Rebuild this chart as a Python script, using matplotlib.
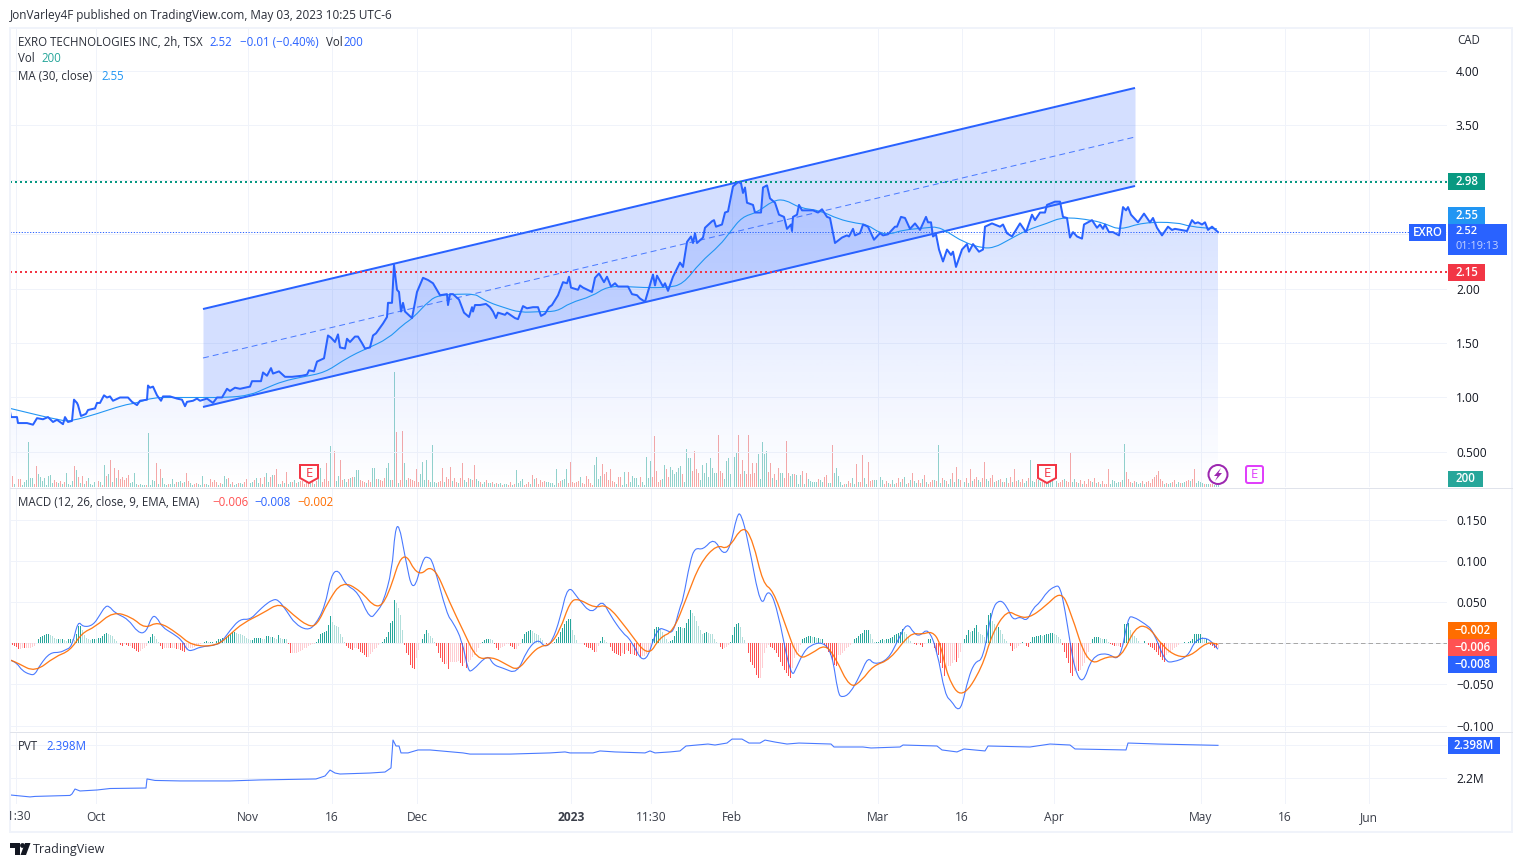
import numpy as np
import matplotlib
matplotlib.use("Agg")
import matplotlib.pyplot as plt
from matplotlib.patches import Rectangle, Polygon, Circle, FancyBboxPatch, PathPatch
from matplotlib.path import Path
from matplotlib.transforms import Bbox, TransformedBbox

plt.rcParams['font.family'] = ['Open Sans', 'DejaVu Sans']
plt.rcParams['axes.unicode_minus'] = True

W, H = 1522, 867

# ---------- data ----------
price_points = [(10,.87),(11,.82),(17,.82),(18,.765),(27,.765),(33,.75),(37,.81),(43,.80),(48,.82),(53,.775),(57,.795),(63,.755),(65,.82),(68,.775),(72,.785),(74,.98),(77,.95),(78,.93),(81,.83),(86,.85),(88,.885),(95,.90),(97,.95),(100,.95),(104,1.02),(107,1.0),(110,1.01),(113,.97),(120,1.0),(128,1.0),(132,.96),(137,.93),(140,.97),(147,.98),(148,1.11),(150,1.09),(153,1.10),(157,1.02),(161,.97),(163,1.01),(170,1.01),(177,.99),(182,.98),(185,.92),(187,.96),(193,.97),(197,.99),(200,.97),(207,.99),(213,.95),(217,1.0),(222,1.0),(227,1.08),(230,1.06),(235,1.09),(240,1.08),(250,1.10),(252,1.15),(261,1.15),(263,1.23),(267,1.20),(271,1.27),(273,1.22),(279,1.24),(285,1.19),(292,1.19),(302,1.20),(307,1.21),(309,1.25),(314,1.24),(317,1.33),(324,1.36),(328,1.57),(331,1.55),(335,1.51),(338,1.58),(340,1.46),(345,1.45),(347,1.54),(350,1.51),(355,1.56),(358,1.56),(362,1.50),(365,1.45),(370,1.46),(373,1.57),(376,1.59),(383,1.68),(387,1.74),(388,1.87),(392,1.87),(394,2.22),(397,1.99),(399,1.97),(401,1.79),(403,1.87),(405,1.79),(412,1.73),(417,1.97),(423,2.10),(428,2.08),(433,2.05),(440,1.94),(447,1.95),(448,1.85),(450,1.95),(453,1.95),(459,1.90),(464,1.78),(469,1.74),(472,1.83),(473,1.79),(475,1.85),(480,1.85),
(486,1.86),(490,1.83),(493,1.79),(496,1.73),(498,1.78),(505,1.76),(507,1.78),(515,1.73),(518,1.72),(523,1.84),(527,1.82),(533,1.83),(538,1.83),(541,1.75),(545,1.77),(549,1.83),(552,1.85),(558,1.94),(563,2.06),(567,2.05),(569,2.11),(571,2.01),(578,1.99),(580,2.03),(583,2.01),(592,1.97),(595,2.10),(599,2.14),(604,2.06),(607,2.11),(611,2.02),(615,2.05),(618,2.02),(628,2.02),(632,1.95),(637,1.94),(640,1.91),(645,1.88),(653,2.13),(655,2.03),(657,2.12),(663,2.02),(665,2.05),(668,1.98),(673,2.11),(680,2.24),(683,2.20),(687,2.43),(691,2.48),(693,2.42),(695,2.51),(697,2.42),(703,2.47),(705,2.56),(712,2.62),(714,2.63),(716,2.57),(722,2.59),(725,2.70),(728,2.71),(733,2.94),(738,2.98),(741,2.97),(743,2.88),(745,2.93),(747,2.79),(753,2.77),(755,2.70),(761,2.70),(763,2.93),(767,2.95),(770,2.83),(775,2.79),(779,2.68),(784,2.66),(787,2.55),(791,2.59),(792,2.53),(793,2.66),(797,2.68),(799,2.77),(802,2.72),(813,2.72),(818,2.70),(822,2.73),(827,2.66),(830,2.65),(835,2.42),(842,2.47),(847,2.49),(849,2.48),(853,2.55),(855,2.49),(860,2.51),
(863,2.59),(868,2.57),(874,2.45),(880,2.51),(883,2.49),(888,2.50),(895,2.57),(897,2.57),(901,2.66),(905,2.65),(910,2.55),(915,2.60),(920,2.54),(926,2.66),(928,2.61),(931,2.61),(933,2.48),(936,2.50),(939,2.36),(943,2.25),(947,2.36),(951,2.31),(953,2.34),(956,2.20),(962,2.36),(967,2.41),(969,2.34),(973,2.41),(979,2.34),(983,2.36),(985,2.57),(992,2.60),(1000,2.57),(1003,2.59),(1007,2.51),(1012,2.48),(1020,2.60),(1023,2.56),(1026,2.52),(1032,2.68),(1035,2.63),(1040,2.70),(1045,2.70),(1047,2.77),(1055,2.80),(1060,2.80),(1063,2.66),(1067,2.65),(1070,2.47),(1073,2.52),(1077,2.48),(1082,2.46),(1084,2.59),(1092,2.63),(1097,2.56),(1100,2.59),(1103,2.55),(1105,2.59),(1109,2.52),(1113,2.52),(1119,2.49),(1123,2.75),(1126,2.72),(1128,2.75),(1131,2.68),(1138,2.61),(1144,2.69),(1150,2.61),(1153,2.65),(1157,2.56),(1162,2.49),(1168,2.57),(1172,2.54),(1175,2.55),(1187,2.53),(1192,2.63),(1195,2.60),(1198,2.61),(1202,2.59),(1205,2.61),(1208,2.54),(1212,2.57),(1218,2.52)]

ma_points = [(10,.90),(62,.785),(72,.785),(97,.85),(123,.93),(137,.95),(153,1.0),(173,1.0),(203,1.0),(227,1.0),(250,1.02),(267,1.09),(283,1.15),(303,1.19),(325,1.23),(343,1.34),(357,1.41),(367,1.45),(388,1.54),(403,1.67),(413,1.73),(430,1.90),(440,1.94),(457,1.95),(475,1.95),(480,1.92),(490,1.87),(503,1.83),(520,1.78),(540,1.79),(557,1.79),(570,1.87),(592,1.93),(607,2.02),(627,2.02),(643,2.01),(667,2.01),(683,2.04),(700,2.24),(720,2.40),(730,2.52),(742,2.66),(757,2.70),(773,2.81),(785,2.82),(800,2.74),(820,2.72),(838,2.64),(857,2.60),(867,2.59),(880,2.51),(890,2.50),(903,2.54),(927,2.56),(937,2.57),(948,2.52),(963,2.43),(983,2.37),(995,2.38),(1007,2.44),(1027,2.54),(1047,2.60),(1063,2.66),(1093,2.63),(1107,2.59),(1120,2.54),(1143,2.61),(1177,2.61),(1190,2.57),(1217,2.55)]

channel_t = [203, 1135]
channel_upper = [1.813, 3.845]
channel_middle = [1.363, 3.394]
channel_lower = [0.913, 2.944]

resistance_level = 2.98
support_level = 2.15
last_close = 2.52

volume_rows = [
[2,-11,3,7,-8,-8,2,5,7,45,9,9,-3,-21,13,10,6,9,2,11],
[12,4,-7,-5,4,-6,3,-5,14,3,2,6,-21,17,-10,4,-11,3,-6,9],
[3,2,5,9,-6,5,-2,22,-11,13,-27,5,-19,9,-17,-8,-10,-7,-9,-12],
[4,5,14,3,-2,3,2,2,-2,54,2,7,6,-24,3,-18,9,3,2,-3],
[3,8,3,-5,5,6,-4,5,-14,-6,4,2,-3,-4,3,2,11,-3,3,2],
[-8,-5,-7,-5,2,-4,3,11,8,-9,3,-5,2,3,-4,4,3,-5,-8,3],
[4,5,-7,9,4,-9,3,-10,14,5,-10,12,-12,-18,3,3,-6,4,-15,3],
[5,-5,7,-4,5,-6,-6,-3,-5,-4,4,-5,3,-6,8,19,-5,-8,-24,-6],
[41,9,-36,6,11,-27,-7,8,5,-8,9,-10,10,17,17,-7,-6,-5,4,-7],
[-5,19,19,-8,8,-7,-6,-9,19,24,7,-7,115,-55,4,-7,-56,24,7,-9],
[-8,-7,-6,-18,-5,13,25,7,27,-7,5,42,5,4,-5,-6,-19,5,-10,-8],
[-20,6,-9,-5,4,-9,-24,7,5,-9,8,-7,-22,8,6,-5,3,5,-7,4],
[4,-5,3,-4,3,4,-2,3,3,-2,-5,2,-3,17,4,6,8,-2,-3,-5],
[3,-12,8,-9,-3,-7,-5,-6,5,5,4,4,2,18,-4,-6,7,8,18,-4],
[-25,-5,-4,-5,-6,10,-4,-3,-11,-8,-4,-2,22,30,8,11,-23,-13,-15,-7],
[-18,-6,-5,3,-10,-10,2,15,3,-15,5,11,9,9,2,-10,5,2,30,9],
[26,-10,-51,-16,-5,-7,8,22,-18,-10,20,17,13,15,19,21,-13,5,38,29],
[29,-16,-36,-18,-14,7,22,14,24,10,29,19,14,14,-52,-16,-14,8,26,29],
[13,52,30,34,-52,-13,-27,16,-13,-52,-13,-24,-14,-24,33,8,45,33,36,-15],
[-24,9,-13,7,-19,14,14,-9,-46,-14,11,13,-13,12,3,12,-16,3,-14,8],
[6,5,5,5,-8,7,5,-10,-12,4,4,-42,14,19,11,5,2,-3,3,-6],
[-4,9,3,-23,5,-5,-32,9,3,-25,-6,-7,7,7,12,10,7,-3,-6,4],
[-3,7,3,-4,-9,5,-8,10,3,-4,7,-14,6,4,-7,-4,8,-12,5,-3],
[-5,-7,7,-6,42,4,-9,7,-6,3,8,-14,5,-20,8,-7,-10,5,-9,4],
[-18,6,-8,-10,7,5,-9,-25,8,6,-9,-12,5,-6,7,-8,5,-5,9,-4],
[-10,5,-18,-6,7,-5,-8,4,6,-9,27,6,5,-8,7,5,-5,-9,6,9],
[5,6,3,6,-4,-5,-7,8,-6,-5,-34,5,8,-5,4,-7,3,-6,-3,-8],
[-6,5,-9,4,-5,3,-6,-3,-3,-18,3,7,6,4,5,-5,7,43,-15,-8],
[-5,4,-6,5,3,4,-6,3,-5,-6,-4,-8,-10,-12,-16,-8,-6,3,-4,3],
[4,-5,-7,3,5,-4,4,5,-6,-7,6,-8,-18,4,6,5,4,-3,3,3],
[-3,-3,2,2,2]]

hist_rows = [
[1,-2,-3,-4,-7,-7,-5,-6,-6,-5,-5,-4,-3,0,6,8,9,10,11,11],
[10,9,7,6,6,5,5,4,3,6,6,5,4,11,21,21,16,10,7,5],
[4,5,6,5,7,7,9,11,13,12,10,9,6,3,1,-2,-3,-1,-2,-3],
[-3,-5,-7,-9,-10,-9,-7,-5,-3,3,8,11,9,6,2,-3,-7,-6,-5,-5],
[-6,-6,-6,-7,-7,-8,-9,-10,-8,-6,-5,-5,-4,-3,-2,-1,1,2,3,2],
[2,2,1,3,5,6,7,6,8,10,12,14,14,13,12,11,10,9,7,5],
[4,4,7,7,7,7,6,5,9,9,8,8,7,6,10,7,6,6,5,-1],
[-11,-11,-11,-11,-10,-9,-8,-6,-5,-3,-2,-1,-1,2,6,11,13,14,15,22],
[33,26,22,21,20,12,8,2,-3,-6,-7,-8,-5,-5,-7,-10,-12,-14,-17,-16],
[-13,-10,-7,-5,-2,0,2,5,8,14,25,28,53,49,43,35,16,-2,-12,-14],
[-26,-30,-31,-18,-8,1,5,12,16,13,9,7,2,-3,-12,-18,-23,-25,-25,-31],
[-23,-22,-22,-22,-21,-24,-28,-24,-30,-23,-20,-17,-14,-10,-6,-1,2,4,6,6],
[5,4,-1,-5,-8,-5,-4,-3,-1,-1,-3,-4,-7,-7,-3,-1,6,12,14,15],
[16,15,13,11,10,7,4,1,-1,-1,-1,-1,2,5,8,14,19,24,28,30],
[30,16,10,4,1,0,0,-2,-4,-5,-6,-8,-10,-10,-3,3,8,4,2,1],
[-4,-9,-11,-13,-14,-15,-11,-13,-8,-9,-13,-13,-14,-15,-11,-16,-15,-15,-13,-10],
[-6,5,18,20,20,18,14,10,6,2,3,4,9,15,20,20,19,19,25,30],
[41,37,34,28,21,16,12,13,14,13,12,11,6,2,0,-4,-7,-6,-4,-2],
[2,10,20,24,25,20,8,4,1,-12,-22,-26,-30,-38,-42,-42,-30,-12,-6,-2],
[-4,-6,-8,-12,-17,-22,-28,-32,-36,-40,-42,-30,-18,-14,-10,-2,5,7,8,9],
[9,8,8,7,7,6,6,-2,-6,-10,-14,-20,-26,-28,-14,-14,-11,-9,-6,-4],
[-2,0,6,7,9,11,13,16,16,17,11,6,2,2,2,4,5,4,5,6],
[7,8,10,11,13,14,18,14,12,8,3,0,-1,-2,-1,-2,-4,-1,0,6],
[6,0,-6,-10,-14,-24,-30,-40,-32,-28,-27,-24,-20,-22,-18,-10,0,6,10,16],
[14,15,19,22,14,11,10,8,22,35,37,28,24,20,20,16,12,6,3,0],
[-3,-9,-7,-5,-3,-1,2,1,-3,-4,2,8,8,9,9,10,9,10,11,12],
[13,13,12,10,8,5,-2,-10,-18,-24,-36,-40,-34,-32,-33,-32,-28,-24,-18,-10],
[-1,6,8,8,8,7,6,6,5,2,-1,-2,-3,-3,-3,-4,-2,24,24,25],
[16,12,9,7,3,1,1,3,1,-2,-4,-6,-8,-10,-14,-17,-20,-22,-14,-12],
[-10,-8,-6,-4,-2,0,1,2,1,2,3,5,11,11,11,11,8,6,6,2],
[-2,-3,-5,-6,-6]]

macd_points = [(10,-20),(17,-24),(22,-33),(30,-38),(35,-38),(40,-26),(50,-11),(60,-11),(65,-8),(72,-4),(78,28),(83,20),(93,22),(100,35),(105,45),(109,46),(115,37),(128,30),(138,13),(146,13),(152,34),(157,32),(162,20),(173,12),(182,4),(187,-8),(192,-9),(200,-4),(217,-2),(223,4),(230,16),(240,30),(250,29),(258,39),(265,47),(272,53),(278,54),(287,39),(295,24),(307,16),(315,22),(325,45),(331,83),(338,91),(346,71),(358,63),(370,29),(377,39),(383,49),(392,89),(395,138),(399,146),(405,106),(413,59),(423,104),(428,106),(433,100),(447,35),(453,26),(462,4),(468,-33),(472,-34),(488,-13),(493,-26),(503,-30),(517,-37),(527,-8),(538,6),(545,-5),(552,2),(560,30),(568,72),(578,55),(592,35),(602,54),(610,35),(623,12),(630,6),(645,-29),(657,20),(667,16),(673,12),(680,45),(683,53),(690,100),(695,117),(703,114),(714,129),(723,108),(730,116),(737,157),(741,159),(748,126),(761,41),(768,68),(777,45),(791,-43),(797,-28),(803,-12),(810,-2),(823,2),(832,-12),(838,-61),(842,-66),(850,-61),(860,-39),(868,-16),(874,-26),(888,-20),(898,4),(907,26),(914,12),(920,9),(928,19),(937,-8),(945,-63),(952,-71),(957,-81),(962,-77),(968,-43),(975,-22),(983,-20),(992,43),(1000,54),(1007,45),(1013,28),(1020,33),(1027,27),(1033,43),(1040,50),(1047,63),(1055,70),(1060,70),(1065,41),(1070,2),(1075,-33),(1083,-50),(1092,-16),(1107,-11),(1120,-22),(1128,32),(1133,33),(1145,24),(1153,16),(1165,-22),(1173,-23),(1188,-16),(1195,4),(1207,8),(1218,-7)]

signal_points = [(10,-20),(18,-24),(35,-35),(55,-16),(70,-9),(82,13),(95,20),(113,39),(132,32),(145,18),(158,27),(177,13),(192,-3),(217,-3),(230,11),(243,25),(263,37),(280,50),(293,35),(308,21),(317,22),(328,51),(342,76),(360,65),(377,41),(388,57),(403,117),(418,80),(433,98),(450,49),(463,16),(477,-20),(492,-16),(507,-26),(518,-33),(530,-14),(540,-3),(550,-2),(560,16),(570,51),(578,55),(595,43),(607,48),(627,18),(648,-17),(660,8),(673,14),(687,57),(700,98),(717,121),(728,114),(743,145),(753,125),(763,73),(773,65),(785,24),(798,-20),(812,-12),(825,-1),(835,-16),(850,-55),(862,-45),(873,-27),(890,-20),(910,13),(922,11),(932,15),(940,2),(948,-43),(962,-68),(982,-30),(992,12),(1007,41),(1018,33),(1029,31),(1045,45),(1061,64),(1070,41),(1088,-28),(1108,-15),(1121,-18),(1135,20),(1148,22),(1163,-4),(1177,-16),(1190,-16),(1207,2),(1218,-1)]

pvt_points = [(10,2.097),(30,2.085),(35,2.088),(70,2.094),(72,2.103),(75,2.133),(80,2.121),(97,2.127),(110,2.136),(146,2.139),(147,2.194),(155,2.185),(180,2.182),(230,2.182),(260,2.188),(316,2.194),(325,2.212),(330,2.248),(335,2.230),(340,2.224),(370,2.230),(385,2.236),(391,2.261),(393,2.430),(396,2.394),(399,2.394),(401,2.352),(408,2.352),(418,2.370),(430,2.370),(463,2.352),(470,2.345),(510,2.345),(550,2.352),(565,2.358),(570,2.352),(593,2.352),(600,2.364),(615,2.358),(645,2.352),(650,2.364),(655,2.352),(670,2.358),(680,2.364),(686,2.394),(708,2.406),(715,2.400),(727,2.412),(732,2.436),(742,2.436),(749,2.412),(760,2.412),(765,2.430),(775,2.418),(787,2.406),(799,2.412),(831,2.406),(834,2.388),(863,2.388),(871,2.382),(900,2.388),(903,2.400),(937,2.394),(942,2.370),(957,2.358),(964,2.376),(985,2.364),(988,2.394),(1030,2.388),(1050,2.406),(1070,2.400),(1075,2.376),(1126,2.370),(1128,2.412),(1158,2.406),(1218,2.398)]

price_ticks = [0.5, 1.0, 1.5, 2.0, 2.5, 3.0, 3.5, 4.0]
price_tick_labels = ['0.500', '1.00', '1.50', '2.00', '', '', '3.50', '4.00']
macd_ticks = [-0.10, -0.05, 0.05, 0.10, 0.15]
macd_tick_labels = ['\u22120.100', '\u22120.050', '0.050', '0.100', '0.150']
macd_grid = [-0.10, -0.05, 0.0, 0.05, 0.10, 0.15]
pvt_ticks = [2.2, 2.4]
time_ticks = [16, 96, 248, 332, 417, 571, 651, 732, 878, 962, 1054, 1201, 1285, 1369]
time_labels = ['', 'Oct', 'Nov', '16', 'Dec', '2023', '11:30', 'Feb', 'Mar', '16', 'Apr', 'May', '16', 'Jun']

# ---------- colours ----------
BLUE = '#2962ff'
MA_BLUE = '#2196f3'
ORANGE = '#ff6d00'
TEAL = '#26a69a'
RED = '#ef5350'
GRID = '#f0f3fa'
SEP = '#e0e3eb'
TXT = '#131722'
PX = 0.72  # points per pixel at dpi 100

fig = plt.figure(figsize=(W / 100, H / 100), dpi=100, facecolor='white')


def rect(x0, y0, x1, y1):
    return [x0 / W, 1 - y1 / H, (x1 - x0) / W, (y1 - y0) / H]


def unzip(points):
    a = np.array(points, dtype=float)
    return a[:, 0], a[:, 1]


def smooth_line(axis, t, v, **kw):
    """Round the corners of a read polyline with quadratic Bezier segments."""
    pts = np.column_stack([t, v])
    mids = (pts[:-1] + pts[1:]) / 2
    verts = [pts[0], mids[0]]
    codes = [Path.MOVETO, Path.LINETO]
    for i in range(1, len(pts) - 1):
        verts += [pts[i], mids[i]]
        codes += [Path.CURVE3, Path.CURVE3]
    verts.append(pts[-1])
    codes.append(Path.LINETO)
    axis.add_patch(PathPatch(Path(np.array(verts), codes), fill=False, **kw))


XLIM = (10, 1447)

# panes
ax_vol = fig.add_axes(rect(10, 28, 1447, 487), zorder=1)
ax = fig.add_axes(rect(10, 28, 1447, 487), zorder=2, sharex=ax_vol)
ax.patch.set_visible(False)
ax_m = fig.add_axes(rect(10, 488, 1447, 731), zorder=2, sharex=ax_vol)
ax_p = fig.add_axes(rect(10, 732, 1447, 804), zorder=2, sharex=ax_vol)

for a in (ax_vol, ax, ax_m, ax_p):
    for s in a.spines.values():
        s.set_visible(False)
    a.set_xlim(*XLIM)
    a.set_xticks(time_ticks)
    a.tick_params(axis='x', length=0, labelbottom=False)
    a.tick_params(axis='y', length=0, labelleft=False, labelright=True, right=False, left=False,
                  pad=9 * PX, labelsize=12 * PX, labelcolor=TXT)
    a.grid(True, color=GRID, lw=1 * PX)
    a.set_axisbelow(True)

# volume
vol = np.concatenate([np.array(r, dtype=float) for r in volume_rows])
bar_t = 10 + 2 * np.arange(len(vol))
ax_vol.bar(bar_t, np.abs(vol), width=1.0,
           color=[TEAL if v > 0 else RED for v in vol], alpha=0.5, lw=0)
ax_vol.set_ylim(0, 459)
ax_vol.grid(False)
ax_vol.tick_params(labelright=False)
ax_vol.set_yticks([])
ax_vol.set_xticks(time_ticks)
ax_vol.tick_params(axis='x', labelbottom=False)

# price pane
ax.set_ylim(0.1774, 4.396)
ax.set_yticks(price_ticks)
ax.set_yticklabels(price_tick_labels)

pt, pv = unzip(price_points)
ax.fill_between(channel_t, channel_lower, channel_upper, color=BLUE, alpha=0.2, lw=0, zorder=1.5)
poly = Polygon(np.column_stack([np.r_[pt, pt[-1], pt[0]], np.r_[pv, 0.1774, 0.1774]]),
               closed=True, transform=ax.transData, facecolor='none', edgecolor='none')
ax.add_patch(poly)
rgb = matplotlib.colors.to_rgb(BLUE)
grad = np.ones((256, 2, 4))
grad[..., 0], grad[..., 1], grad[..., 2] = rgb
grad[..., 3] = np.linspace(0.21, 0.0, 256)[:, None]
im = ax.imshow(grad, extent=(pt[0], pt[-1], 0.1774, 3.0), aspect='auto', origin='upper', zorder=1.6)
im.set_clip_path(poly)
ax.set_xlim(*XLIM)
ax.set_ylim(0.1774, 4.396)

ax.plot(channel_t, channel_upper, color=BLUE, lw=2 * PX, solid_capstyle='butt', zorder=3)
ax.plot(channel_t, channel_lower, color=BLUE, lw=2 * PX, solid_capstyle='butt', zorder=3)
ax.plot(channel_t, channel_middle, color=BLUE, lw=1 * PX, ls=(0, (6, 4)), alpha=0.8, zorder=3)

ax.axhline(resistance_level, color='#089981', lw=2 * PX, ls=(0, (1, 1.5)), zorder=3)
ax.axhline(support_level, color='#f23645', lw=2 * PX, ls=(0, (1, 1.5)), zorder=3)
ax.axhline(last_close, color=BLUE, lw=1 * PX, ls=(0, (1.2, 1.6)), zorder=3)

mt, mv = unzip(ma_points)
smooth_line(ax, mt, mv, edgecolor=MA_BLUE, lw=1.1 * PX, zorder=4)
ax.plot(pt, pv, color=BLUE, lw=2 * PX, solid_joinstyle='round', zorder=5)

# MACD pane
ax_m.set_ylim(-0.1067, 0.1896)
ax_m.set_yticks(macd_grid)
ax_m.set_yticklabels([macd_tick_labels[macd_ticks.index(v)] if v in macd_ticks else '' for v in macd_grid])
hist = np.concatenate([np.array(r, dtype=float) for r in hist_rows]) / 1000
hcol = []
for i, v in enumerate(hist):
    prev = hist[i - 1] if i else v
    if v >= 0:
        hcol.append('#26a69a' if v >= prev else '#b2dfdb')
    else:
        hcol.append('#ffcdd2' if v >= prev else '#ff5252')
ax_m.bar(10 + 2 * np.arange(len(hist)), hist, width=1.0, color=hcol, lw=0, zorder=2)
ax_m.plot([1218, 1447], [0, 0], color='#a8a8a8', lw=1 * PX, ls=(0, (4.5, 3)), zorder=2)
t1, v1 = unzip(macd_points)
t2, v2 = unzip(signal_points)
smooth_line(ax_m, t1, v1 / 1000, edgecolor=BLUE, lw=1.1 * PX, zorder=3, alpha=0.85)
smooth_line(ax_m, t2, v2 / 1000, edgecolor=ORANGE, lw=1.3 * PX, zorder=4, alpha=0.9)

# PVT pane
ax_p.set_ylim(2.042, 2.479)
ax_p.set_yticks(pvt_ticks)
ax_p.set_yticklabels(['2.2M', ''])
t3, v3 = unzip(pvt_points)
ax_p.plot(t3, v3, color=BLUE, lw=1.1 * PX, zorder=3, alpha=0.85)
ax_p.tick_params(axis='x', labelbottom=True, pad=17 * PX, labelsize=12 * PX, labelcolor='#3a3e49')
ax_p.set_xticklabels(time_labels)
for lab in ax_p.get_xticklabels():
    lab.set_verticalalignment('baseline')
    if lab.get_text() == '2023':
        lab.set_fontweight('bold')

# ---------- overlay in figure pixels ----------
ov = fig.add_axes([0, 0, 1, 1], zorder=10)
ov.set_xlim(0, W)
ov.set_ylim(H, 0)
ov.axis('off')
ov.patch.set_visible(False)

FS = 11.55 * PX


def txt(x, y, s, color=TXT, ha='left', size=FS, weight='normal', **kw):
    return ov.text(x, y, s, color=color, ha=ha, va='center', fontsize=size, fontweight=weight, **kw)


def box(x0, y0, x1, y1, color, ec='none', lw=0, z=2):
    ov.add_patch(Rectangle((x0, y0), x1 - x0, y1 - y0, facecolor=color, edgecolor=ec, lw=lw, zorder=z))


# frame and separators
ov.add_patch(Rectangle((10, 27.5), 1502, 804.5, fill=False, edgecolor=GRID, lw=2 * PX))
ov.plot([10, 1512], [487.5, 487.5], color=SEP, lw=1 * PX)
ov.plot([10, 1512], [731.5, 731.5], color=SEP, lw=1 * PX)

# header and footer
txt(10, 15, 'JonVarley4F published on TradingView.com, May 03, 2023 10:25 UTC-6', color='#2a2e39', size=11.7 * PX)
txt(18, 42, 'EXRO TECHNOLOGIES INC, 2h, TSX', color='#2a2e39')
txt(209, 42, '2.52', color=BLUE)
txt(240, 42, '\u22120.01 (\u22120.40%)', color=BLUE)
txt(326, 42, 'Vol', color='#2a2e39')
txt(343, 42, '200', color=BLUE)
txt(18, 59, 'Vol', color='#2a2e39')
txt(41, 59, '200', color=TEAL)
txt(18, 76, 'MA (30, close)', color='#2a2e39')
txt(101, 76, '2.55', color=MA_BLUE)
txt(18, 503, 'MACD (12, 26, close, 9, EMA, EMA)', color='#2a2e39')
txt(212, 503, '\u22120.006', color='#ff5252')
txt(254, 503, '\u22120.008', color=BLUE)
txt(297, 503, '\u22120.002', color=ORANGE)
txt(18, 747, 'PVT', color='#2a2e39')
txt(46, 747, '2.398M', color=BLUE)
txt(1469, 41, 'CAD', ha='center', color='#2a2e39')
txt(33, 850, 'TradingView', size=12.5 * PX, color='#2a2e39')

# clipped first time label
first = txt(16, 817, '11:30', ha='center', color='#3a3e49', size=12 * PX)
first.set_clip_box(TransformedBbox(Bbox([[10, 805], [1447, 831]]), ov.transData))
first.set_clip_on(True)

# TradingView logo
ov.add_patch(Polygon([(10, 843), (20, 843), (20, 855), (15, 855), (15, 848), (10, 848)], closed=True,
                     facecolor='#131722', edgecolor='none'))
ov.add_patch(Circle((22.5, 845.5), 2.4, facecolor='#131722', edgecolor='none'))
ov.add_patch(Polygon([(25, 843), (30.5, 843), (26, 855), (20.5, 855)], closed=True,
                     facecolor='#131722', edgecolor='none'))

# axis tags
tags = [
    (1448, 173, 1485, 190, '#089981', '2.98', 1467),
    (1448, 207, 1485, 224, MA_BLUE, '2.55', 1467),
    (1448, 264, 1485, 281, '#f23645', '2.15', 1467),
    (1448, 471, 1483, 487, TEAL, '200', 1465),
    (1448, 622, 1497, 639, ORANGE, '\u22120.002', 1473),
    (1448, 639, 1497, 656, '#ff5252', '\u22120.006', 1473),
    (1448, 656, 1497, 673, BLUE, '\u22120.008', 1473),
    (1448, 737, 1500, 754, BLUE, '2.398M', 1474),
]
for x0, y0, x1, y1, c, s, xc in tags:
    box(x0, y0, x1, y1, c)
    txt(xc, (y0 + y1) / 2, s, color='white', ha='center', zorder=5, weight='semibold')

box(1448, 224, 1507, 255, BLUE)
txt(1456, 232, '2.52', color='white', zorder=5, weight='semibold', size=11 * PX)
txt(1456, 246.5, '01:19:13', color='#c4d3ff', zorder=5, size=11 * PX)
box(1409, 224, 1446, 241, BLUE)
txt(1427.5, 232.5, 'EXRO', color='white', ha='center', zorder=5, weight='semibold')

# event markers


def shield(x):
    ov.add_patch(Polygon([(x - 9, 465), (x + 9, 465), (x + 9, 478), (x, 483), (x - 9, 478)], closed=True,
                         facecolor='white', edgecolor='#f23645', lw=2 * PX, zorder=6))
    txt(x, 473.5, 'E', color='#f23645', ha='center', zorder=7, size=13 * PX)


shield(309)
shield(1047)
ov.add_patch(Circle((1218, 474.5), 9.5, facecolor='white', edgecolor='#9c27b0', lw=2 * PX, zorder=6))
ov.add_patch(Polygon([(1221, 468), (1214, 476), (1217.5, 476), (1215, 481), (1222, 473), (1218.5, 473)],
                     closed=True, facecolor='#9c27b0', edgecolor='none', zorder=7))
ov.add_patch(FancyBboxPatch((1246, 466), 17, 17, boxstyle='round,pad=0,rounding_size=2', facecolor='white',
                            edgecolor='#e040fb', lw=2 * PX, zorder=6))
txt(1254.5, 474.5, 'E', color='#e040fb', ha='center', zorder=7, size=13 * PX)

fig.savefig('out.png', dpi=100)
